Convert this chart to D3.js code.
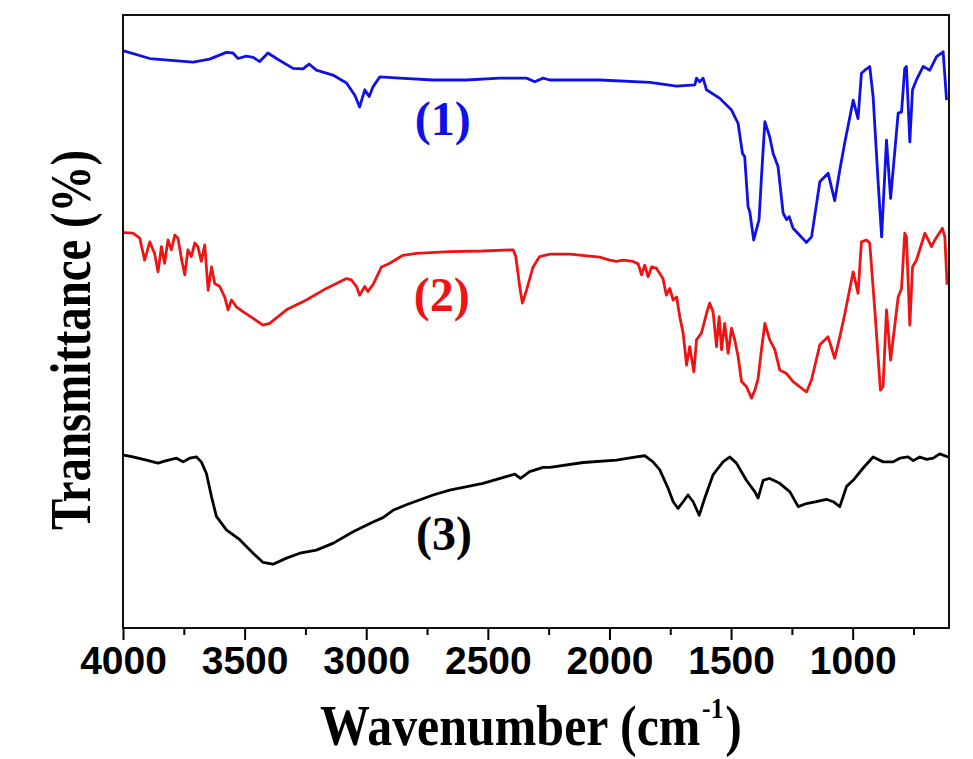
<!DOCTYPE html>
<html>
<head>
	<meta charset="utf-8">
	<title>FTIR spectra</title>
	<style>
		body{ margin:0; background:#fff; }
		.tick text{ font-family:"Liberation Sans", Arial, sans-serif; font-weight:bold; }
		.ttl{ font-family:"Liberation Serif", "Times New Roman", serif; font-weight:bold; }
	</style>
	<script src="https://d3js.org/d3.v7.min.js"></script>
</head>
<body>
<svg width="973" height="759"></svg>
<script>

	// wavenumber (cm-1), transmittance (offset, a.u.)
	var spec1 = [[4000,94.2],[3890,92.9],[3712,92.3],[3644,92.8],[3575,93.9],[3548,93.8],[3527,92.9],[3493,93.3],[3465,93.1],[3438,92.4],[3404,93.8],[3369,92.9],[3301,91.3],[3260,91.2],[3235,92.0],[3205,91.0],[3137,90.2],[3081,88.9],[3047,86.9],[3027,85.0],[3006,87.8],[2988,86.7],[2972,88.3],[2944,89.9],[2862,89.7],[2725,89.4],[2588,89.4],[2451,89.7],[2341,89.7],[2307,89.1],[2273,89.7],[2245,89.4],[2040,89.4],[1834,89.0],[1724,88.4],[1649,88.6],[1642,89.7],[1629,89.1],[1615,89.7],[1601,87.8],[1546,86.4],[1498,84.5],[1471,82.3],[1453,77.4],[1444,76.9],[1430,68.7],[1423,67.9],[1407,63.3],[1385,66.6],[1375,73.6],[1361,82.6],[1341,80.1],[1327,77.4],[1307,75.3],[1286,67.7],[1272,66.6],[1261,67.1],[1245,65.2],[1190,62.9],[1169,63.8],[1135,72.8],[1101,74.2],[1074,69.7],[1053,74.7],[1032,79.3],[998,86.1],[978,83.1],[964,90.5],[950,91.0],[930,91.6],[916,86.7],[895,72.5],[881,63.8],[861,79.6],[844,70.1],[813,84.0],[799,84.2],[786,91.3],[779,91.6],[765,79.3],[754,87.8],[738,89.4],[710,91.6],[683,91.0],[655,93.2],[628,94.0],[614,86.1]];

	var spec2 = [[3997,64.5],[3959,64.4],[3931,63.6],[3911,60.0],[3890,63.0],[3870,61.1],[3856,58.1],[3842,62.2],[3829,59.5],[3815,63.3],[3801,61.7],[3787,64.1],[3774,63.6],[3760,60.3],[3746,57.6],[3733,61.7],[3719,60.6],[3705,62.8],[3692,62.2],[3678,59.8],[3664,62.5],[3650,55.1],[3636,58.9],[3623,56.2],[3602,55.7],[3582,54.0],[3568,51.9],[3554,53.5],[3534,52.4],[3507,51.6],[3465,50.5],[3424,49.4],[3397,49.7],[3328,51.9],[3246,53.5],[3164,55.4],[3081,57.0],[3061,56.8],[3040,55.7],[3027,54.3],[3006,55.7],[2993,54.9],[2972,56.0],[2937,58.9],[2903,59.5],[2849,60.8],[2793,61.1],[2657,61.4],[2520,61.5],[2396,61.7],[2385,60.6],[2369,55.7],[2358,53.0],[2341,55.1],[2314,58.9],[2287,60.6],[2245,61.0],[2163,61.0],[2040,60.5],[1999,60.0],[1971,59.8],[1944,60.0],[1903,59.8],[1882,59.4],[1868,57.6],[1855,59.2],[1841,57.3],[1827,58.9],[1807,58.7],[1780,57.0],[1766,54.3],[1752,55.4],[1738,53.5],[1724,54.0],[1711,50.8],[1697,48.1],[1683,42.9],[1670,45.9],[1653,41.8],[1642,47.0],[1622,48.1],[1601,51.3],[1588,53.0],[1574,51.6],[1560,45.9],[1549,50.8],[1539,45.4],[1526,49.7],[1512,44.8],[1498,48.9],[1485,47.0],[1471,44.3],[1457,40.2],[1437,39.4],[1416,37.5],[1402,38.8],[1389,40.7],[1375,45.4],[1361,49.7],[1341,47.0],[1320,45.4],[1300,42.1],[1272,41.5],[1245,40.2],[1190,38.5],[1169,40.5],[1135,46.2],[1101,47.5],[1074,44.0],[1053,47.5],[1032,51.3],[998,58.1],[978,54.6],[964,63.0],[943,63.3],[930,62.8],[909,51.9],[886,38.8],[875,39.4],[861,51.9],[844,43.7],[813,54.0],[799,55.4],[786,64.4],[779,63.8],[765,49.4],[754,58.9],[738,60.0],[703,64.4],[676,62.2],[662,63.3],[631,65.2],[621,63.8],[612,56.0]];

	var spec3 = [[3997,28.2],[3959,27.9],[3904,27.4],[3856,26.9],[3822,27.3],[3780,27.7],[3753,27.1],[3726,27.7],[3698,27.9],[3678,27.1],[3657,25.2],[3636,21.4],[3616,18.2],[3575,16.0],[3520,14.4],[3465,12.2],[3424,10.7],[3383,10.4],[3328,11.4],[3273,12.2],[3205,12.7],[3137,13.8],[3054,15.7],[2972,17.3],[2931,18.0],[2890,19.2],[2835,20.1],[2725,21.7],[2657,22.5],[2520,23.6],[2389,25.1],[2366,24.4],[2328,25.5],[2273,26.2],[2245,26.2],[2108,27.0],[1971,27.4],[1889,27.9],[1855,28.1],[1821,27.1],[1793,25.8],[1759,22.8],[1738,20.6],[1718,19.5],[1697,20.6],[1677,21.7],[1656,20.6],[1631,18.4],[1608,21.2],[1574,25.0],[1533,27.1],[1505,27.9],[1478,26.9],[1437,24.1],[1402,22.2],[1389,21.2],[1368,24.1],[1341,24.4],[1300,23.6],[1258,22.2],[1224,19.8],[1190,20.3],[1149,20.6],[1108,21.0],[1080,20.6],[1053,19.8],[1025,23.1],[998,24.1],[957,26.1],[916,27.9],[875,27.1],[834,27.1],[806,27.7],[772,27.9],[751,27.3],[724,27.9],[696,27.5],[669,27.7],[642,28.4],[608,27.9]];

	var seriesNames = ["(1)", "(2)", "(3)"];
	var seriesColors = ["#1010e8", "#ee1414", "#000000"];
	// where each label sits: [wavenumber, transmittance]
	var labelPos = [[2685,80.5], [2690,51.7], [2680,12.7]];
	var majorTicks = [4000,3500,3000,2500,2000,1500,1000];
	var minorTicks = [3750,3250,2750,2250,1750,1250,750];

	var svg = d3.select("svg"),
	    margin = {top: 15, right: 24, bottom: 131, left: 123},
	    width = 973 - margin.left - margin.right,
	    height = 759 - margin.top - margin.bottom;

	var x = d3.scaleLinear().domain([4000, 604]).range([0, width]),
	    y = d3.scaleLinear().domain([0, 100]).range([height, 0]);

	var g = svg.append("g")
	    .attr("transform", "translate(" + margin.left + "," + margin.top + ")");

	var line = d3.line()
	    .x(function(d){ return x(d[0]); })
	    .y(function(d){ return y(d[1]); });

	[spec1, spec2, spec3].forEach(function(s, i){
		g.append("path")
		 .datum(s)
		 .attr("fill", "none")
		 .attr("stroke", seriesColors[i])
		 .attr("stroke-width", 2.8)
		 .attr("stroke-linejoin", "round")
		 .attr("d", line);
	});

	// frame
	g.append("rect")
	 .attr("width", width)
	 .attr("height", height)
	 .attr("fill", "none")
	 .attr("stroke", "#111")
	 .attr("stroke-width", 2);

	g.append("g")
	 .attr("transform", "translate(0," + height + ")")
	 .call(d3.axisBottom(x).tickValues(minorTicks).tickSize(7).tickFormat(""))
	 .call(function(a){ a.select(".domain").remove(); a.selectAll("line").attr("stroke-width", 2); });

	var xAxis = g.append("g")
	 .attr("transform", "translate(0," + height + ")")
	 .call(d3.axisBottom(x).tickValues(majorTicks).tickSize(12).tickPadding(6).tickFormat(d3.format("d")));
	xAxis.select(".domain").remove();
	xAxis.selectAll("line").attr("stroke-width", 2);
	xAxis.selectAll("text").attr("font-size", 39).attr("fill", "#000");

	// curve labels
	seriesNames.forEach(function(n, i){
		g.append("text")
		 .attr("class", "ttl")
		 .attr("x", x(labelPos[i][0]))
		 .attr("y", y(labelPos[i][1]))
		 .attr("text-anchor", "middle")
		 .attr("font-size", 48)
		 .attr("fill", seriesColors[i])
		 .text(n);
	});

	var xt = svg.append("text")
	    .attr("class", "ttl")
	    .attr("x", 531)
	    .attr("y", 745)
	    .attr("text-anchor", "middle")
	    .attr("font-size", 58)
	    .attr("textLength", 422)
	    .attr("lengthAdjust", "spacingAndGlyphs");
	xt.append("tspan").text("Wavenumber (cm");
	xt.append("tspan").attr("font-size", 30).attr("dx", 2).attr("dy", -27).text("-1");
	xt.append("tspan").attr("dx", 2).attr("dy", 27).text(")");

	svg.append("text")
	   .attr("class", "ttl")
	   .attr("transform", "translate(90,340) rotate(-90)")
	   .attr("text-anchor", "middle")
	   .attr("font-size", 56)
	   .attr("textLength", 380)
	   .attr("lengthAdjust", "spacingAndGlyphs")
	   .text("Transmittance (%)");

</script>
</body>
</html>
